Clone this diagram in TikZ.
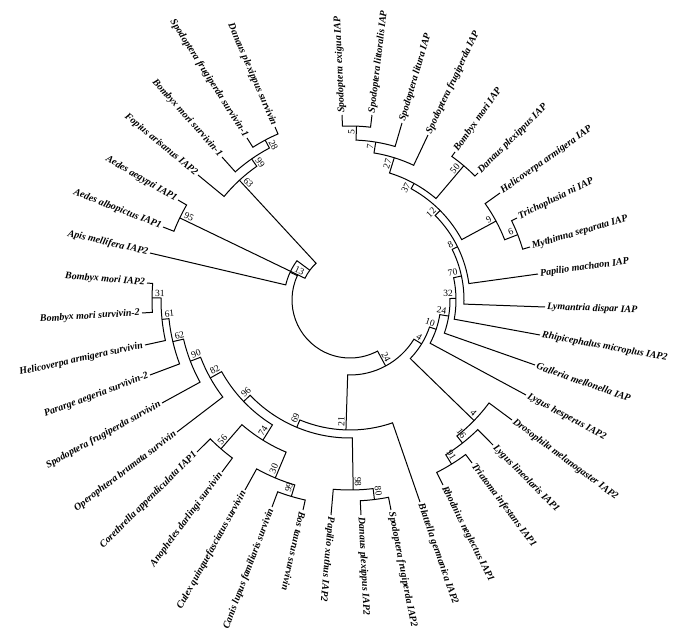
\documentclass[tikz,border=0pt]{standalone}
\usepackage{fontspec}
\setmainfont{Liberation Serif}
\tikzset{br/.style={line width=1pt,black},
  tiptext/.style={font=\bfseries\itshape\fontsize{10}{12}\selectfont,inner sep=2pt},
  bs/.style={font=\fontsize{9.5}{10}\selectfont,inner sep=1.5pt}}
\newcommand\settip[3]{%
  \pgfmathsetmacro\tmpx{#2-350}\pgfmathsetmacro\tmpy{300-#3}%
  \pgfmathsetmacro\tmpa{atan2(\tmpy,\tmpx)}%
  \pgfmathsetmacro\tmpa{\tmpa>110 ? \tmpa-360 : \tmpa}%
  \pgfmathsetmacro\tmpr{veclen(\tmpx,\tmpy)}%
  \expandafter\xdef\csname TA#1\endcsname{\tmpa}%
  \expandafter\xdef\csname TR#1\endcsname{\tmpr}}
\newcommand\tiplab[4]{\settip{#1}{#2}{#3}%
  \edef\ta{\csname TA#1\endcsname}\edef\tr{\csname TR#1\endcsname}%
  \ifdim\ta pt<-106pt
    \node[tiptext,rotate=\ta+180,anchor=east] (t#1) at (\ta:\tr pt) {#4};
  \else
    \node[tiptext,rotate=\ta,anchor=west] (t#1) at (\ta:\tr pt) {#4};
  \fi}
\newcommand\inode[5]{%
  \edef\aone{\csname TA#2\endcsname}\edef\rone{\csname TR#2\endcsname}%
  \edef\atwo{\csname TA#3\endcsname}\edef\rtwo{\csname TR#3\endcsname}%
  \pgfmathsetmacro\am{(\aone+\atwo)/2}%
  \pgfmathsetmacro\rl{#4-1.5}%
  \draw[br] (\aone:\rone pt) -- (\aone:#4pt) arc[start angle=\aone,end angle=\atwo,radius=#4pt] -- (\atwo:\rtwo pt);
  \expandafter\xdef\csname TA#1\endcsname{\am}%
  \expandafter\xdef\csname TR#1\endcsname{#4}%
  \if\relax\detokenize{#5}\relax\else
    \ifdim\am pt<-90pt
      \node[bs,rotate=\am+180,anchor=south west] (b#1) at (\am:\rl pt) {#5};
    \else
      \node[bs,rotate=\am,anchor=south east] (b#1) at (\am:\rl pt) {#5};
    \fi
  \fi}
\begin{document}
\begin{tikzpicture}[x=1pt,y=1pt]
\useasboundingbox (0,0) rectangle (685,641);
\begin{scope}[shift={(350,341)}]
\tiplab{dsurv}{275}{127}{Danaus plexippus survivin}
\tiplab{sfsa}{247}{138}{Spodoptera frugiperda survivin-1}
\tiplab{bmsa}{222}{157}{Bombyx mori survivin-1}
\tiplab{fop}{198}{175}{Fopius arisanus IAP2}
\tiplab{aae}{178}{200}{Aedes aegypti IAP1}
\tiplab{aal}{163}{227}{Aedes albopictus IAP1}
\tiplab{apis}{150}{253}{Apis mellifera IAP2}
\tiplab{bmib}{147}{283}{Bombyx mori IAP2}
\tiplab{bmsb}{142}{313}{Bombyx mori survivin-2}
\tiplab{has}{145}{345}{Helicoverpa armigera survivin}
\tiplab{par}{150}{375}{Pararge aegeria survivin-2}
\tiplab{sfs}{162}{403}{Spodoptera frugiperda survivin}
\tiplab{ope}{177}{432}{Operophtera brumata survivin}
\tiplab{cor}{197}{452}{Corethrella appendiculata IAP1}
\tiplab{ano}{222}{472}{Anopheles darlingi survivin}
\tiplab{cul}{245}{490}{Culex quinquefasciatus survivin}
\tiplab{can}{272}{507}{Canis lupus familiaris survivin}
\tiplab{bos}{303}{510}{Bos taurus survivin}
\tiplab{pxu}{331}{515}{Papilio xuthus IAP2}
\tiplab{dpib}{361}{515}{Danaus plexippus IAP2}
\tiplab{sfib}{391}{510}{Spodoptera frugiperda IAP2}
\tiplab{bla}{420}{502}{Blattella germanica IAP2}
\tiplab{rho}{443}{485}{Rhodnius neglectus IAP1}
\tiplab{tri}{472}{463}{Triatoma infestans IAP1}
\tiplab{lli}{493}{445}{Lygus lineolaris IAP1}
\tiplab{dro}{512}{420}{Drosophila melanogaster IAP2}
\tiplab{lhe}{526}{395}{Lygus hesperus IAP2}
\tiplab{gal}{535}{365}{Galleria mellonella IAP}
\tiplab{rhi}{540}{335}{Rhipicephalus microplus IAP2}
\tiplab{lym}{545}{307}{Lymantria dispar IAP}
\tiplab{pma}{538}{274}{Papilio machaon IAP}
\tiplab{myt}{530}{247}{Mythimna separata IAP}
\tiplab{tni}{517}{218}{Trichoplusia ni IAP}
\tiplab{hai}{500}{193}{Helicoverpa armigera IAP}
\tiplab{dpi}{478}{173}{Danaus plexippus IAP}
\tiplab{bmi}{455}{152}{Bombyx mori IAP}
\tiplab{sfi}{428}{135}{Spodoptera frugiperda IAP}
\tiplab{slu}{402}{123}{Spodoptera litura IAP}
\tiplab{slo}{372}{115}{Spodoptera littoralis IAP}
\tiplab{sex}{342}{115}{Spodoptera exigua IAP}
% left clade
\inode{nA}{dsurv}{sfsa}{181}{28}
\inode{nB}{nA}{bmsa}{172}{99}
\inode{nC}{nB}{fop}{163}{63}
\inode{nD}{aae}{aal}{189}{95}
\inode{nE}{nC}{nD}{50}{}
\inode{nF}{nE}{apis}{66}{13}
% survivin clade
\inode{nG}{bmib}{bmsb}{198}{31}
\inode{nH}{nG}{has}{189}{61}
\inode{nI}{nH}{par}{182}{62}
\inode{nJ}{nI}{sfs}{171}{90}
\inode{nK}{nJ}{ope}{160}{82}
\inode{nL}{cor}{ano}{197}{56}
\inode{nM}{can}{bos}{205}{99}
\inode{nN}{cul}{nM}{193}{30}
\inode{nO}{nL}{nN}{165}{74}
\inode{nP}{nK}{nO}{147}{96}
\inode{nQ}{dpib}{sfib}{201}{80}
\inode{nR}{pxu}{nQ}{190}{98}
\inode{nS}{nP}{nR}{138}{69}
\inode{nT}{nS}{bla}{130}{21}
% right clade
\inode{na}{rho}{tri}{193}{91}
\inode{nb}{na}{lli}{182}{16}
\inode{nc}{nb}{dro}{173}{4}
\inode{nd}{slo}{sex}{174}{5}
\inode{ne}{slu}{nd}{160}{7}
\inode{nf}{sfi}{ne}{149}{27}
\inode{ng}{dpi}{bmi}{176}{50}
\inode{nh}{ng}{nf}{133}{37}
\inode{ni}{myt}{tni}{180}{6}
\inode{nj}{ni}{hai}{166}{9}
\inode{nk}{nj}{nh}{127}{12}
\inode{nl}{pma}{nk}{120}{8}
\inode{nm}{lym}{nl}{114}{70}
\inode{nn}{rhi}{nm}{106}{32}
\inode{no}{gal}{nn}{100}{24}
\inode{np}{lhe}{no}{91}{10}
\inode{nq}{nc}{np}{84}{4}
\inode{nr}{nT}{nq}{75}{24}
\inode{root}{nF}{nr}{58}{}
\end{scope}
\end{tikzpicture}
\end{document}
